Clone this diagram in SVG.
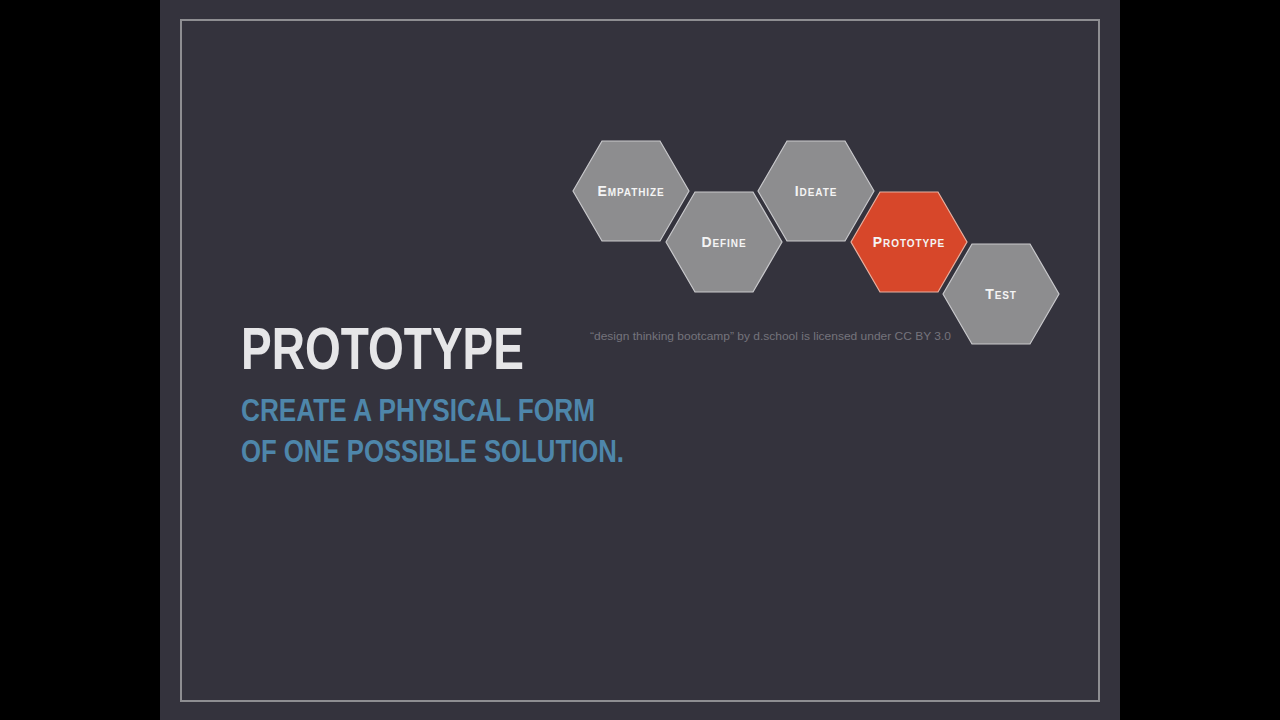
<svg xmlns="http://www.w3.org/2000/svg" width="1280" height="720" viewBox="0 0 1280 720">
<defs>
<polygon id="hex" points="-58,0 -29,-50 29,-50 58,0 29,50 -29,50"/>
</defs>
<style>
.hex{fill:#8d8d8f;stroke:#c9c9cc;stroke-width:1.2}
.hex.active{fill:#d7472a;stroke:#e8b0a0}
.lbl{font-family:"Liberation Sans",sans-serif;font-weight:bold;font-size:14px;fill:#f4f4f4;text-anchor:middle;font-variant:small-caps;letter-spacing:0.9px}
</style>
<rect x="0" y="0" width="1280" height="720" fill="#000"/>
<rect x="160" y="0" width="960" height="720" fill="#34333d"/>
<rect x="181" y="20" width="918" height="681" fill="none" stroke="#8e8e92" stroke-width="2"/>
<g id="connectors"/>
<g id="empathize"><use href="#hex" class="hex" x="631" y="191"/><text class="lbl" x="631" y="196">Empathize</text></g>
<g id="define"><use href="#hex" class="hex" x="724" y="242"/><text class="lbl" x="724" y="247">Define</text></g>
<g id="ideate"><use href="#hex" class="hex" x="816" y="191"/><text class="lbl" x="816" y="196">Ideate</text></g>
<g id="prototype"><use href="#hex" class="hex active" x="909" y="242"/><text class="lbl" x="909" y="247">Prototype</text></g>
<g id="test"><use href="#hex" class="hex" x="1001" y="294"/><text class="lbl" x="1001" y="299">Test</text></g>
<text x="590" y="340" font-family="Liberation Sans, sans-serif" font-size="11" fill="#74737c" textLength="361" lengthAdjust="spacingAndGlyphs">“design thinking bootcamp” by d.school is licensed under CC BY 3.0</text>
<g id="title">
<text x="241" y="369" font-family="Liberation Sans, sans-serif" font-weight="bold" font-size="60" fill="#e6e6e8" textLength="283" lengthAdjust="spacingAndGlyphs">PROTOTYPE</text>
<text x="241" y="421" font-family="Liberation Sans, sans-serif" font-weight="bold" font-size="31" fill="#4e86aa" textLength="354" lengthAdjust="spacingAndGlyphs">CREATE A PHYSICAL FORM</text>
<text x="241" y="462" font-family="Liberation Sans, sans-serif" font-weight="bold" font-size="31" fill="#4e86aa" textLength="383" lengthAdjust="spacingAndGlyphs">OF ONE POSSIBLE SOLUTION.</text>
</g>
</svg>
